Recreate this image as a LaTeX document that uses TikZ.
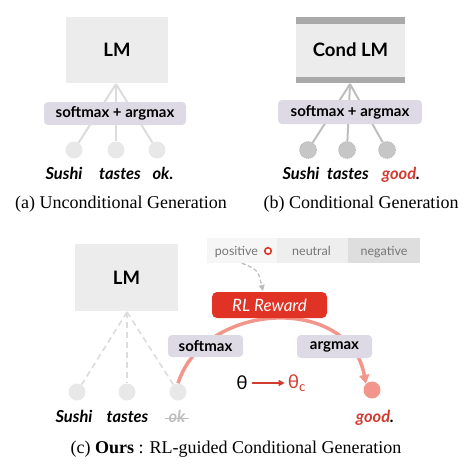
\documentclass[tikz,border=0pt]{standalone}
\usepackage{fontspec}
\setmainfont{Liberation Serif}
\newfontfamily\lato{Lato}
\usetikzlibrary{backgrounds,arrows.meta}
\definecolor{boxgray}{HTML}{ECECEC}
\definecolor{lav}{HTML}{DDDAE5}
\definecolor{dotA}{HTML}{E8E8E8}
\definecolor{lineA}{HTML}{DCDCDC}
\definecolor{bargray}{HTML}{A9A9A9}
\definecolor{dotB}{HTML}{C6C6C6}
\definecolor{lineB}{HTML}{BEBEBE}
\definecolor{salmon}{HTML}{F2968C}
\definecolor{rlred}{HTML}{E03325}
\definecolor{goodred}{HTML}{D23B30}
\definecolor{sentgray}{HTML}{767676}
\definecolor{posfill}{HTML}{F6F6F6}
\definecolor{neufill}{HTML}{EEEEEE}
\definecolor{negfill}{HTML}{DEDEDE}
\begin{document}
\begin{tikzpicture}[x=1pt,y=-1pt,
  lmbox/.style={fill=boxgray,inner sep=0,font=\lato\bfseries\fontsize{18.5}{20}\selectfont},
  smbox/.style={fill=lav,rounded corners=4pt,inner sep=0,font=\lato\bfseries\fontsize{15}{17}\selectfont},
  tok/.style={circle,minimum size=17,inner sep=0},
  word/.style={anchor=base,inner sep=0,font=\lato\bfseries\itshape\fontsize{16.5}{18}\selectfont},
  capt/.style={anchor=base,inner sep=0,font=\fontsize{18}{20}\selectfont},
  linea/.style={draw=lineA,line width=2pt},
  lineb/.style={draw=lineB,line width=2pt},
  linec/.style={draw=lineA,line width=1.6pt,dash pattern=on 6pt off 4pt},
  sent/.style={inner sep=0,minimum height=25},
  senttext/.style={inner sep=0,anchor=base,text=sentgray,font=\lato\fontsize{12.5}{14}\selectfont},
  redarc/.style={draw=salmon,line width=3.5pt},
]
\useasboundingbox (0,0) rectangle (474,474);

% ---------- (a) ----------
\node[lmbox,minimum width=102,minimum height=66] (lmA) at (117,50) {LM};
\coordinate (apexA) at (116,84);
\node[smbox,minimum width=142,minimum height=23] (smA) at (115,113.5) {softmax + argmax};
\node[tok,fill=dotA] (a1) at (74,150) {};
\node[tok,fill=dotA] (a2) at (116,150) {};
\node[tok,fill=dotA] (a3) at (157,150) {};
\begin{scope}[on background layer]
  \draw[linea] (apexA) -- (a1);
  \draw[linea] (apexA) -- (a2);
  \draw[linea] (apexA) -- (a3);
\end{scope}
\node[word] (wa1) at (64,179) {Sushi};
\node[word] (wa2) at (120,179) {tastes};
\node[word] (wa3) at (163,179) {ok.};
\node[capt] (capA) at (121,208) {(a) Unconditional Generation};

% ---------- (b) ----------
\node[lmbox,minimum width=109,minimum height=66] (lmB) at (350.5,50) {Cond LM};
\fill[bargray] (lmB.north west) rectangle ([yshift=-7pt]lmB.north east);
\fill[bargray] ([yshift=6pt]lmB.south west) rectangle (lmB.south east);
\coordinate (apexB) at (350,84);
\node[smbox,minimum width=144,minimum height=24] (smB) at (350,112) {softmax + argmax};
\node[tok,fill=dotB,draw=bargray!80,line width=0.8pt,dash pattern=on 1pt off 1pt] (b1) at (308,150) {};
\node[tok,fill=dotB,draw=bargray!80,line width=0.8pt,dash pattern=on 1pt off 1pt] (b2) at (347,150) {};
\node[tok,fill=dotB,draw=bargray!80,line width=0.8pt,dash pattern=on 1pt off 1pt] (b3) at (387,150) {};
\begin{scope}[on background layer]
  \draw[lineb] (apexB) -- (b1);
  \draw[lineb] (apexB) -- (b2);
  \draw[lineb] (apexB) -- (b3);
\end{scope}
\node[word] (wb1) at (301,179) {Sushi};
\node[word] (wb2) at (348,179) {tastes};
\node[word] (wb3) at (401,179) {\textcolor{goodred}{good}.};
\node[capt] (capB) at (361,208) {(b) Conditional Generation};

% ---------- (c) ----------
\node[lmbox,minimum width=103,minimum height=67] (lmC) at (126.5,277.5) {LM};
\coordinate (apexC) at (127,312);
\node[tok,fill=dotA] (c1) at (77,392) {};
\node[tok,fill=dotA] (c2) at (127,392) {};
\node[tok,fill=dotA] (c3) at (178,392) {};
\node[tok,fill=salmon] (g) at (372,390) {};
\begin{scope}[on background layer]
  \draw[linec] (apexC) -- (c1);
  \draw[linec] (apexC) -- (c2);
  \draw[linec] (apexC) -- (c3);
  \draw[redarc,-{Triangle[length=9pt,width=10pt]}] (c3.north) .. controls (205,300) and (350,295) .. (g.north west);
\end{scope}

% sentiment bar
\node[sent,fill=posfill,minimum width=70] (pos) at (242,250.5) {};
\node[sent,fill=neufill,minimum width=71] (neu) at (312.5,250.5) {};
\node[sent,fill=negfill,minimum width=72] (neg) at (384,250.5) {};
\node[senttext] (post) at (236.5,255) {positive};
\node[circle,draw=rlred,line width=1.6pt,fill=white,minimum size=6.5,inner sep=0] (ring) at (268,251) {};
\node[senttext] (neut) at (311.5,255) {neutral};
\node[senttext] (negt) at (384,255) {negative};

\node[fill=rlred,rounded corners=5pt,inner sep=0,minimum width=115,minimum height=26,text=white,
  font=\lato\itshape\fontsize{17}{19}\selectfont] (rl) at (269.5,305) {RL Reward};
\coordinate (rltop) at (263,291);
\draw[draw=lineB,line width=1.3pt,dash pattern=on 4pt off 2.5pt,-{Triangle[length=6pt,width=6pt]}]
  (pos.south) .. controls (258,270) .. (rltop);

\node[smbox,minimum width=75,minimum height=22] (smC) at (205.5,346) {softmax};
\node[smbox,minimum width=75,minimum height=23] (amC) at (334.5,346.5) {argmax};

\node[inner sep=0,font=\lato\fontsize{19}{20}\selectfont] (th) at (242,383) {θ};
\node[inner sep=0,text=goodred,font=\lato\fontsize{19}{20}\selectfont] (thc) at (297,383) {θ\textsubscript{c}};
\draw[goodred,line width=1.3pt,-{Triangle[length=6pt,width=6pt]}] ([xshift=4pt]th.east) -- ([xshift=-3pt]thc.west);

\node[word] (wc1) at (74,422) {Sushi};
\node[word] (wc2) at (127.5,422) {tastes};
\node[word,text=lineB] (wc3) at (177,422) {ok};
\draw[lineB,line width=1pt] ([xshift=-3pt,yshift=4pt]wc3.base west) -- ([xshift=3pt,yshift=4pt]wc3.base east);
\node[word] (wc4) at (375,422) {\textcolor{goodred}{good}.};
\node[capt] (capC) at (236,453) {(c) \textbf{Ours} : RL-guided Conditional Generation};
\end{tikzpicture}
\end{document}
